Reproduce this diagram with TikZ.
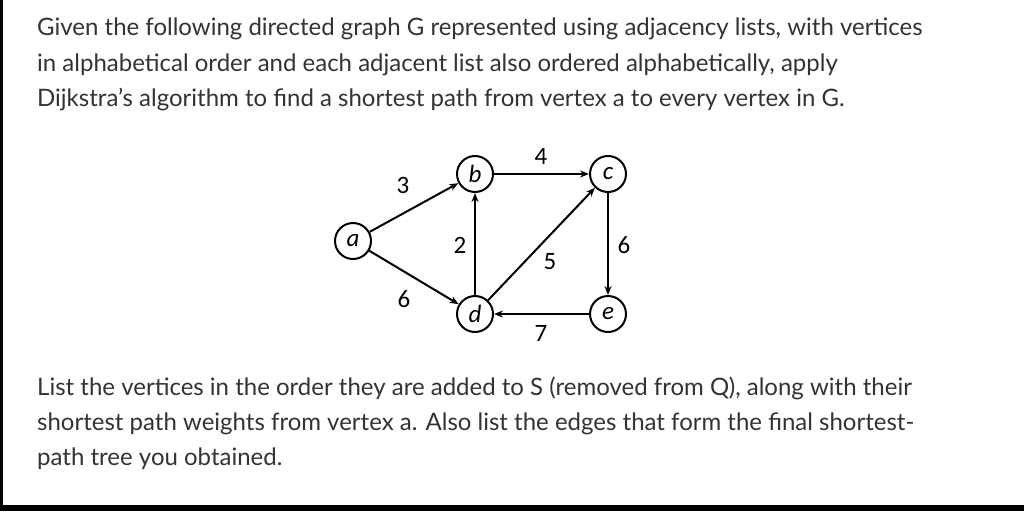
\documentclass[tikz,border=0pt]{standalone}
\usetikzlibrary{arrows.meta}
\usepackage{fontspec}
\setmainfont{Lato}
\newfontfamily\gfont{Carlito}
\begin{document}
\begin{tikzpicture}[x=1pt,y=-1pt,
  vtx/.style={circle,draw,line width=2pt,minimum size=36pt,inner sep=0pt,font=\gfont\itshape\fontsize{25}{27}\selectfont},
  edge/.style={line width=2pt,-{Stealth[length=9pt,width=7pt]}},
  lbl/.style={font=\gfont\fontsize{25}{27}\selectfont},
  txt/.style={anchor=base west,inner sep=0pt,font=\fontsize{24}{28}\selectfont,text=black!80}]
\fill[white] (0,0) rectangle (1024,511);
\useasboundingbox (0,0) rectangle (1024,511);
\fill[black] (0,0) rectangle (3,511);
\fill[black] (0,505) rectangle (1024,511);
\node[txt] (l1) at (37,36) {Given the following directed graph G represented using adjacency lists, with vertices};
\node[txt] (l2) at (37,71) {in alphabetical order and each adjacent list also ordered alphabetically, apply};
\node[txt] (l3) at (37,106) {Dijkstra{\char"27}s algorithm to find a shortest path from vertex a to every vertex in G.};
\node[txt] (l4) at (37,395) {List the vertices in the order they are added to S (removed from Q), along with their};
\node[txt] (l5) at (37,430) {shortest path weights from vertex a. Also list the edges that form the final shortest-};
\node[txt] (l6) at (37,465) {path tree you obtained.};
\node[vtx] (a) at (353,241) {a};
\node[vtx] (b) at (475,174) {b};
\node[vtx] (c) at (608,174) {c};
\node[vtx] (d) at (475,314) {d};
\node[vtx] (e) at (608,314) {e};
\draw[edge] (a) -- (b);
\draw[edge] (a) -- (d);
\draw[edge] (b) -- (c);
\draw[edge] (d) -- (b);
\draw[edge] (d) -- (c);
\draw[edge] (c) -- (e);
\draw[edge] (e) -- (d);
\node[lbl] (w3) at (403,185) {3};
\node[lbl] (w4) at (541,156) {4};
\node[lbl] (w2) at (460,245) {2};
\node[lbl] (w5) at (550,262) {5};
\node[lbl] (w6a) at (624,245) {6};
\node[lbl] (w6b) at (404,299) {6};
\node[lbl] (w7) at (541,333) {7};
\end{tikzpicture}
\end{document}
